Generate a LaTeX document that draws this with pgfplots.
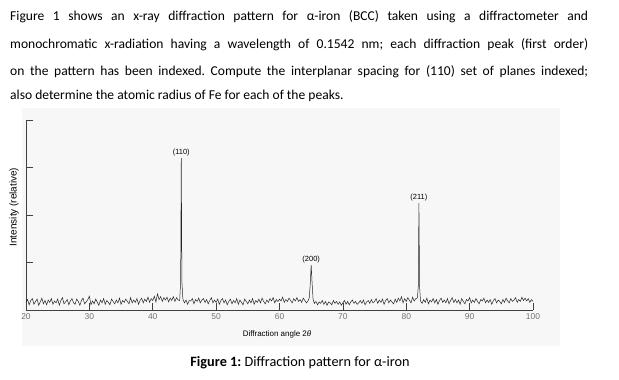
\documentclass[border=0pt]{standalone}
\usepackage{fontspec}
\setmainfont{Carlito}
\newfontfamily\helv{Liberation Sans}
\usepackage{pgfplots}
\pgfplotsset{compat=1.18}
\begin{document}
\frenchspacing
\begin{tikzpicture}
\path[use as bounding box] (0,0) rectangle (619bp,380bp);
\fill[gray!6] (22bp,34bp) rectangle (560bp,272bp);
\begin{scope}[font=\fontsize{13.6}{15}\selectfont]
\node[anchor=base west, inner sep=0] at (10bp,359bp) {\makebox[578bp][s]{Figure 1 shows an x-ray diffraction pattern for α-iron (BCC) taken using a diffractometer and}};
\node[anchor=base west, inner sep=0] at (10bp,331bp) {\makebox[578bp][s]{monochromatic x-radiation having a wavelength of 0.1542 nm; each diffraction peak (first order)}};
\node[anchor=base west, inner sep=0] at (10bp,304bp) {\makebox[578bp][s]{on the pattern has been indexed. Compute the interplanar spacing for (110) set of planes indexed;}};
\node[anchor=base west, inner sep=0] at (10bp,280bp) {also determine the atomic radius of Fe for each of the peaks.};
\end{scope}
\node[anchor=base, inner sep=0, font=\fontsize{14.3}{16}\selectfont] at (300bp,14bp) {\textbf{Figure 1:} Diffraction pattern for α-iron};
\node[rotate=90, font=\helv\fontsize{10}{11}\selectfont] at (14bp,173bp) {Intensity (relative)};
\node[font=\helv\fontsize{8}{9}\selectfont] at (277bp,46bp) {Diffraction angle 2\textit{θ}};
\begin{axis}[at={(26bp,70bp)}, anchor=south west, scale only axis,
  width=507bp, height=190bp,
  xmin=20, xmax=100, ymin=0, ymax=4,
  axis x line=bottom, axis y line=left,
  x axis line style={-}, y axis line style={-},
  axis line style={black!75, line width=0.6bp},
  xtick={20,30,...,100}, ytick={1,2,3,4}, yticklabels={},
  tick align=inside, major tick length=7bp,
  tick style={black!75, line width=0.6bp},
  tick label style={font=\helv\fontsize{8.5}{9}\selectfont, text=black!55},
  /pgf/number format/assume math mode=true,
  clip=false]
\addplot[black!85, line width=0.5bp] coordinates {
(20.00,0.16) (20.25,0.22) (20.50,0.11) (20.75,0.20)
(21.00,0.24) (21.25,0.12) (21.50,0.18) (21.75,0.23)
(22.00,0.10) (22.25,0.17) (22.50,0.25) (22.75,0.13)
(23.00,0.20) (23.25,0.11) (23.50,0.21) (23.75,0.16)
(24.00,0.24) (24.25,0.12) (24.50,0.19) (24.75,0.15)
(25.00,0.23) (25.25,0.10) (25.50,0.20) (25.75,0.26)
(26.00,0.13) (26.25,0.17) (26.50,0.22) (26.75,0.11)
(27.00,0.19) (27.25,0.24) (27.50,0.15) (27.75,0.12)
(28.00,0.23) (28.25,0.18) (28.50,0.10) (28.75,0.20)
(29.00,0.25) (29.25,0.13) (29.50,0.17) (29.75,0.22)
(30.00,0.29) (30.25,0.11) (30.50,0.19) (30.75,0.13)
(31.00,0.23) (31.25,0.16) (31.50,0.10) (31.75,0.21)
(32.00,0.15) (32.25,0.24) (32.50,0.12) (32.75,0.20)
(33.00,0.16) (33.25,0.11) (33.50,0.23) (33.75,0.18)
(34.00,0.13) (34.25,0.21) (34.50,0.15) (34.75,0.25)
(35.00,0.12) (35.25,0.20) (35.50,0.16) (35.75,0.23)
(36.00,0.18) (36.25,0.13) (36.50,0.26) (36.75,0.15)
(37.00,0.21) (37.25,0.16) (37.50,0.24) (37.75,0.12)
(38.00,0.20) (38.25,0.25) (38.50,0.15) (38.75,0.23)
(39.00,0.18) (39.25,0.27) (39.50,0.16) (39.75,0.24)
(40.00,0.20) (40.25,0.29) (40.50,0.17) (40.75,0.34)
(41.00,0.22) (41.25,0.28) (41.50,0.18) (41.75,0.26)
(42.00,0.21) (42.25,0.27) (42.50,0.17) (42.75,0.25)
(43.00,0.20) (43.25,0.28) (43.50,0.18) (43.75,0.26)
(44.00,0.21) (44.25,0.20) (44.40,0.60) (44.50,3.20) (44.60,0.60)
(44.75,0.23) (45.00,0.15) (45.25,0.21) (45.50,0.12) (45.75,0.20)
(46.00,0.19) (46.25,0.24) (46.50,0.13) (46.75,0.22)
(47.00,0.18) (47.25,0.25) (47.50,0.15) (47.75,0.21)
(48.00,0.24) (48.25,0.16) (48.50,0.22) (48.75,0.13)
(49.00,0.20) (49.25,0.26) (49.50,0.15) (49.75,0.21)
(50.00,0.16) (50.25,0.23) (50.50,0.12) (50.75,0.20)
(51.00,0.24) (51.25,0.15) (51.50,0.21) (51.75,0.11)
(52.00,0.18) (52.25,0.23) (52.50,0.13) (52.75,0.20)
(53.00,0.15) (53.25,0.24) (53.50,0.12) (53.75,0.21)
(54.00,0.16) (54.25,0.11) (54.50,0.23) (54.75,0.18)
(55.00,0.13) (55.25,0.21) (55.50,0.15) (55.75,0.24)
(56.00,0.12) (56.25,0.20) (56.50,0.16) (56.75,0.23)
(57.00,0.15) (57.25,0.25) (57.50,0.18) (57.75,0.13)
(58.00,0.21) (58.25,0.16) (58.50,0.24) (58.75,0.19)
(59.00,0.26) (59.25,0.15) (59.50,0.22) (59.75,0.18)
(60.00,0.23) (60.25,0.19) (60.50,0.27) (60.75,0.16)
(61.00,0.22) (61.25,0.18) (61.50,0.25) (61.75,0.20)
(62.00,0.15) (62.25,0.24) (62.50,0.19) (62.75,0.26)
(63.00,0.18) (63.25,0.22) (63.50,0.16) (63.75,0.25)
(64.00,0.20) (64.25,0.15) (64.50,0.19) (64.70,0.26)
(64.85,0.55) (65.00,0.95) (65.15,0.55) (65.30,0.22)
(65.50,0.14) (65.75,0.18)
(66.00,0.11) (66.25,0.17) (66.50,0.14) (66.75,0.20)
(67.00,0.12) (67.25,0.18) (67.50,0.10) (67.75,0.17)
(68.00,0.15) (68.25,0.11) (68.50,0.20) (68.75,0.14)
(69.00,0.18) (69.25,0.12) (69.50,0.17) (69.75,0.10)
(70.00,0.15) (70.25,0.20) (70.50,0.12) (70.75,0.18)
(71.00,0.11) (71.25,0.17) (71.50,0.21) (71.75,0.14)
(72.00,0.18) (72.25,0.12) (72.50,0.15) (72.75,0.20)
(73.00,0.14) (73.25,0.21) (73.50,0.11) (73.75,0.17)
(74.00,0.20) (74.25,0.14) (74.50,0.22) (74.75,0.15)
(75.00,0.18) (75.25,0.24) (75.50,0.14) (75.75,0.21)
(76.00,0.16) (76.25,0.23) (76.50,0.12) (76.75,0.20)
(77.00,0.24) (77.25,0.15) (77.50,0.21) (77.75,0.17)
(78.00,0.13) (78.25,0.23) (78.50,0.16) (78.75,0.25)
(79.00,0.19) (79.25,0.28) (79.50,0.15) (79.75,0.24)
(80.00,0.18) (80.25,0.26) (80.50,0.20) (80.75,0.15)
(81.00,0.27) (81.25,0.19) (81.50,0.24) (81.75,0.25)
(81.90,0.50) (82.00,2.25) (82.10,0.50) (82.25,0.19)
(82.50,0.14) (82.75,0.22)
(83.00,0.16) (83.25,0.25) (83.50,0.13) (83.75,0.21)
(84.00,0.17) (84.25,0.24) (84.50,0.15) (84.75,0.22)
(85.00,0.12) (85.25,0.20) (85.50,0.25) (85.75,0.16)
(86.00,0.21) (86.25,0.15) (86.50,0.24) (86.75,0.13)
(87.00,0.20) (87.25,0.26) (87.50,0.16) (87.75,0.22)
(88.00,0.15) (88.25,0.21) (88.50,0.12) (88.75,0.24)
(89.00,0.18) (89.25,0.13) (89.50,0.22) (89.75,0.19)
(90.00,0.26) (90.25,0.15) (90.50,0.21) (90.75,0.16)
(91.00,0.24) (91.25,0.18) (91.50,0.13) (91.75,0.22)
(92.00,0.19) (92.25,0.25) (92.50,0.15) (92.75,0.21)
(93.00,0.16) (93.25,0.22) (93.50,0.12) (93.75,0.20)
(94.00,0.24) (94.25,0.15) (94.50,0.21) (94.75,0.18)
(95.00,0.13) (95.25,0.22) (95.50,0.16) (95.75,0.25)
(96.00,0.19) (96.25,0.15) (96.50,0.24) (96.75,0.18)
(97.00,0.21) (97.25,0.26) (97.50,0.16) (97.75,0.22)
(98.00,0.18) (98.25,0.27) (98.50,0.20) (98.75,0.25)
(99.00,0.19) (99.25,0.24) (99.50,0.16) (99.75,0.22)
(100.00,0.18)
};
\node[font=\helv\fontsize{7.5}{8}\selectfont, above, inner sep=1.5bp] at (axis cs:44.5,3.2) {(110)};
\node[font=\helv\fontsize{7.5}{8}\selectfont, above, inner sep=1.5bp] at (axis cs:65,0.95) {(200)};
\node[font=\helv\fontsize{7.5}{8}\selectfont, above, inner sep=1.5bp] at (axis cs:82,2.25) {(211)};
\end{axis}
\end{tikzpicture}
\end{document}
